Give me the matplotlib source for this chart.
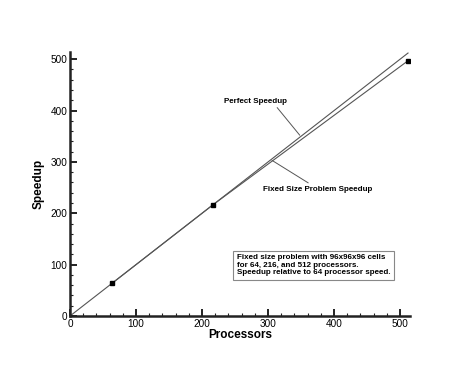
import matplotlib
matplotlib.use("Agg")
import matplotlib.pyplot as plt
from matplotlib.ticker import MultipleLocator

plt.rcParams['font.family'] = ['Liberation Sans', 'DejaVu Sans']

processors = [64, 216, 512]
fixed_speedup = [64, 216, 497]
perfect_x = [0, 512]
perfect_y = [0, 512]
x_ticks = [0, 100, 200, 300, 400, 500]
y_ticks = [0, 100, 200, 300, 400, 500]

fig = plt.figure(figsize=(4.74, 3.66), dpi=100)
ax = fig.add_axes([70/474, 1-316/366, 340/474, 264/366])

ax.plot(perfect_x, perfect_y, color='#555555', lw=0.8)
ax.plot(processors, fixed_speedup, color='#555555', lw=0.8)
ax.plot(processors, fixed_speedup, ls='none', marker='s', ms=2.2, color='black')

ax.set_xlim(0, 515)
ax.set_ylim(0, 514)
ax.set_xticks(x_ticks)
ax.set_yticks(y_ticks)
ax.xaxis.set_minor_locator(MultipleLocator(20))
ax.yaxis.set_minor_locator(MultipleLocator(20))
for s in ['top', 'right']:
    ax.spines[s].set_visible(False)
for s in ['left', 'bottom']:
    ax.spines[s].set_linewidth(1.8)
    ax.spines[s].set_color('#222222')
ax.tick_params(which='major', direction='in', length=5, width=1.4, labelsize=7.2, pad=2, color='#222222')
ax.tick_params(which='minor', direction='in', length=2.5, width=0.8, color='#222222')

ax.set_xlabel('Processors', fontsize=8.5, fontweight='bold', labelpad=0)
ax.set_ylabel('Speedup', fontsize=8.5, fontweight='bold', labelpad=4)

ax.annotate('Perfect Speedup', xy=(348, 352), xytext=(234, 418),
            fontsize=5.8, fontweight='bold', va='center', ha='left',
            arrowprops=dict(arrowstyle='-', color='#555555', lw=0.7,
                            shrinkA=0, shrinkB=0, relpos=(0.8, 0)))
ax.annotate('Fixed Size Problem Speedup', xy=(306, 303), xytext=(293, 247),
            fontsize=5.8, fontweight='bold', va='center', ha='left',
            arrowprops=dict(arrowstyle='-', color='#555555', lw=0.7,
                            shrinkA=0, shrinkB=0, relpos=(0.45, 1.0)))

ax.text(253, 99, 'Fixed size problem with 96x96x96 cells\nfor 64, 216, and 512 processors.\nSpeedup relative to 64 processor speed.',
        fontsize=5.8, fontweight='bold', va='center', ha='left', linespacing=1.1,
        bbox=dict(boxstyle='square,pad=0.45', fc='white', ec='#888888', lw=0.8))

fig.savefig('out.png', dpi=100)
